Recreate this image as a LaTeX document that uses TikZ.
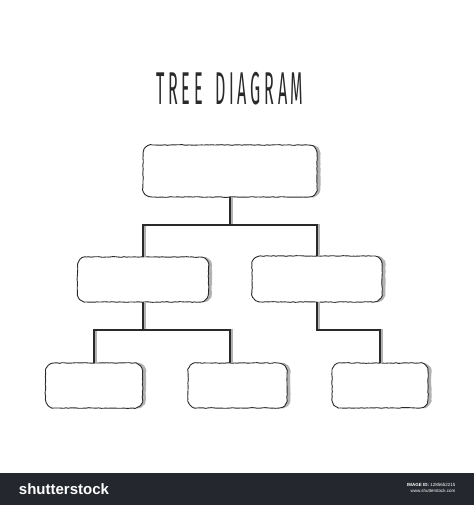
\documentclass[tikz,border=0pt]{standalone}
\usepackage{fontspec}
\setmainfont{Liberation Sans}
\newfontfamily\titlefont{Fira Sans}[LetterSpace=23]
\usetikzlibrary{decorations.pathmorphing}
\definecolor{ink}{HTML}{2A2A2A}
\definecolor{banner}{HTML}{24272E}
\newcommand\sketchpath[1]{([xshift=9pt]#1.north west) -- ([xshift=-9pt]#1.north east)
  .. controls ([xshift=-4pt]#1.north east) and ([yshift=-4pt]#1.north east) .. ([yshift=-9pt]#1.north east)
  -- ([yshift=9pt]#1.south east)
  .. controls ([yshift=4pt]#1.south east) and ([xshift=-4pt]#1.south east) .. ([xshift=-9pt]#1.south east)
  -- ([xshift=9pt]#1.south west)
  .. controls ([xshift=4pt]#1.south west) and ([yshift=4pt]#1.south west) .. ([yshift=9pt]#1.south west)
  -- ([yshift=-9pt]#1.north west)
  .. controls ([yshift=-4pt]#1.north west) and ([xshift=4pt]#1.north west) .. ([xshift=9pt]#1.north west) -- cycle}
\newcommand\drawbox[1]{%
  \begin{scope}[transform canvas={xshift=3.4pt}]
    \fill[boxshade,sketch] \sketchpath{#1};
  \end{scope}
  \filldraw[boxline,sketch] \sketchpath{#1};}
\begin{document}
\begin{tikzpicture}[x=1pt,y=-1pt,
 sketch/.style={decorate,decoration={random steps,segment length=2.5pt,amplitude=0.35pt}},
 tbox/.style={inner sep=0pt,outer sep=0pt},
 boxline/.style={draw=ink,line width=0.9pt,fill=white,line join=round},
 boxshade/.style={fill=gray!60},
 wireshade/.style={draw=gray!60,line width=2.2pt},
 wire/.style={draw=ink,line width=1.1pt},
 ]
\pgfmathsetseed{7}
\useasboundingbox (0,0) rectangle (474,505);
\fill[white] (0,0) rectangle (474,505);
\node[text=ink,font=\titlefont\fontsize{46}{46}\selectfont,inner sep=0pt] (title) at (230,89) {\scalebox{0.35}[1]{TREE\hspace{36pt}DIAGRAM}};
% box nodes (placement only)
\node[tbox,minimum width=174pt,minimum height=52pt] (top) at (230,171) {};
\node[tbox,minimum width=131pt,minimum height=45pt] (ml) at (143,279.5) {};
\node[tbox,minimum width=130pt,minimum height=46pt] (mr) at (317,279) {};
\node[tbox,minimum width=97pt,minimum height=45pt] (bl) at (94,385.5) {};
\node[tbox,minimum width=99pt,minimum height=45pt] (bm) at (237.5,385.5) {};
\node[tbox,minimum width=96pt,minimum height=45pt] (br) at (380,385.5) {};
\drawbox{top}
\drawbox{ml}
\drawbox{mr}
\drawbox{bl}
\drawbox{bm}
\drawbox{br}
% connectors
\coordinate (j1) at (230,225);
\coordinate (j2) at (143,330);
\coordinate (j3) at (317,330);
\begin{scope}[transform canvas={xshift=1.6pt}]
\draw[wireshade] (top.south) -- (j1) -| (ml.north);
\draw[wireshade] (j1) -| (mr.north);
\draw[wireshade] (ml.south) -- (j2) -| (bl.north);
\draw[wireshade] (j2) -| ([xshift=-7.5pt]bm.north);
\draw[wireshade] (mr.south) -- (j3) -| (br.north);
\end{scope}
\draw[wire] (top.south) -- (j1) -| (ml.north);
\draw[wire] (j1) -| (mr.north);
\draw[wire] (ml.south) -- (j2) -| (bl.north);
\draw[wire] (j2) -| ([xshift=-7.5pt]bm.north);
\draw[wire] (mr.south) -- (j3) -| (br.north);
% banner
\fill[banner] (0,473) rectangle (474,505);
\node[text=white,font=\bfseries\fontsize{15}{15}\selectfont] (logo) at (64,489) {shutterstock};
\node[anchor=east,text=white,font=\fontsize{4.5}{5.5}\selectfont,align=right] (imgid) at (459,488) {\textbf{IMAGE ID:} 1285652215\\ www.shutterstock.com};
\end{tikzpicture}
\end{document}
